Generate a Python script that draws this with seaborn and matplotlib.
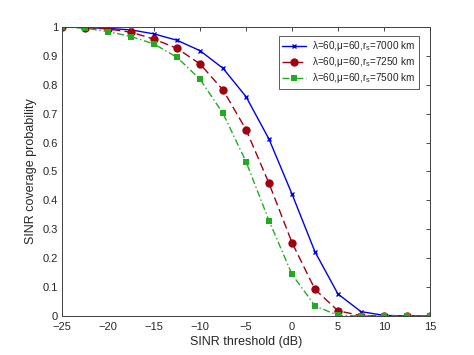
import numpy as np
import pandas as pd
import matplotlib
matplotlib.use("Agg")
import matplotlib.pyplot as plt
import seaborn as sns

# SINR threshold (dB)
thresholds = [-25, -22.5, -20, -17.5, -15, -12.5, -10, -7.5, -5, -2.5,
              0, 2.5, 5, 7.5, 10, 12.5, 15]

cov_7000 = [1.0, 0.998, 0.995, 0.99, 0.976, 0.954, 0.918, 0.857, 0.759, 0.612,
            0.422, 0.222, 0.076, 0.015, 0.002, 0.0, 0.0]
cov_7250 = [1.0, 0.998, 0.993, 0.982, 0.958, 0.926, 0.872, 0.782, 0.645, 0.459,
            0.254, 0.092, 0.018, 0.001, 0.0, 0.0, 0.0]
cov_7500 = [1.0, 0.996, 0.984, 0.967, 0.941, 0.895, 0.819, 0.701, 0.534, 0.33,
            0.144, 0.035, 0.002, 0.0, 0.0, 0.0, 0.0]

labels = ["λ=60,μ=60,r$_\\mathregular{s}$=7000 km",
          "λ=60,μ=60,r$_\\mathregular{s}$=7250 km",
          "λ=60,μ=60,r$_\\mathregular{s}$=7500 km"]

sns.set_style("white")
plt.rcParams["font.family"] = ["Liberation Sans", "DejaVu Sans"]
plt.rcParams["mathtext.fontset"] = "custom"
plt.rcParams["mathtext.rm"] = "Liberation Sans"
plt.rcParams["mathtext.it"] = "Liberation Sans:italic"

fig = plt.figure(figsize=(4.74, 3.55), dpi=100)
ax = fig.add_axes([0.131, 0.110, 0.776, 0.814])

styles = [
    dict(color="#0000ee", linestyle="-", marker="x", markersize=3.5,
         markeredgewidth=1.0, markeredgecolor="#0000ee"),
    dict(color="#a0000f", linestyle=(0, (6, 3)), marker="o", markersize=6,
         markeredgewidth=0, markeredgecolor="#a0000f"),
    dict(color="#22aa22", linestyle=(0, (5, 2, 1, 2)), marker="s", markersize=4,
         markeredgewidth=0, markeredgecolor="#22aa22"),
]
for vals, lab, st in zip([cov_7000, cov_7250, cov_7500], labels, styles):
    df = pd.DataFrame({"x": thresholds, "y": vals})
    sns.lineplot(data=df, x="x", y="y", ax=ax, label=lab, linewidth=1.0, **st)

ax.set_xlim(-25, 15)
ax.set_ylim(0, 1)
ax.set_xticks(np.arange(-25, 16, 5))
ax.set_yticks(np.arange(0, 1.01, 0.1))
ax.set_yticklabels(["0"] + ["%.1f" % v for v in np.arange(0.1, 0.95, 0.1)] + ["1"])
ax.tick_params(direction="in", length=3, width=0.6, labelsize=8,
               top=True, right=True, colors="0.15")
ax.tick_params(axis="x", pad=4)
ax.tick_params(axis="y", pad=3)
for s in ax.spines.values():
    s.set_color("0.25")
    s.set_linewidth(0.7)

ax.set_xlabel("SINR threshold (dB)", fontsize=9, labelpad=3)
ax.set_ylabel("SINR coverage probability", fontsize=9, labelpad=4)

leg = ax.legend(loc="upper right", fontsize=7.2, frameon=True, fancybox=False,
                borderpad=0.35, handlelength=2.4, handletextpad=0.6,
                labelspacing=0.2, borderaxespad=0.3,
                bbox_to_anchor=(0.978, 0.98))
leg.get_frame().set_edgecolor("0.2")
leg.get_frame().set_linewidth(0.7)

fig.savefig("out.png", dpi=100)
